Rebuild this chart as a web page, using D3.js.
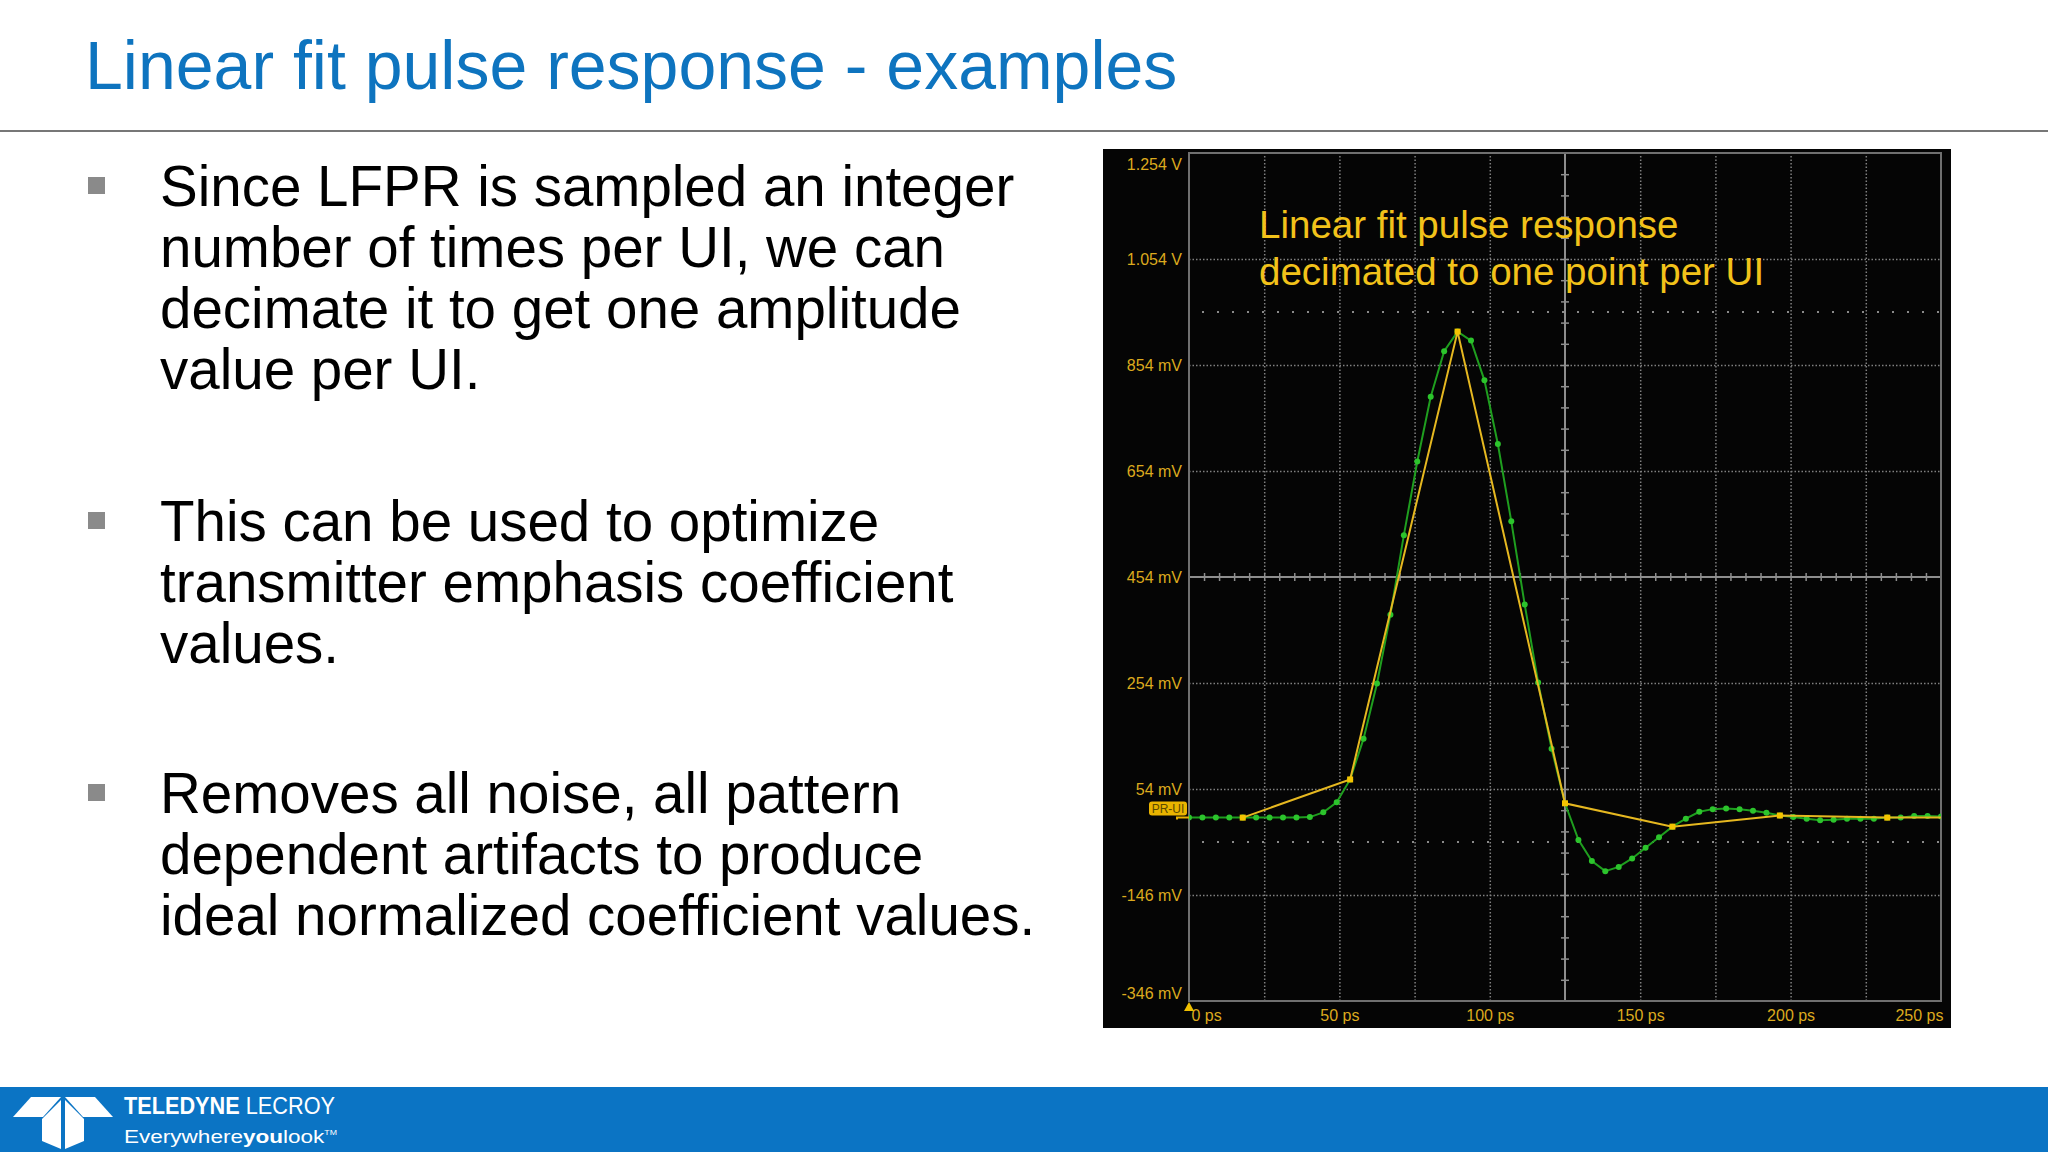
<!DOCTYPE html>
<html>
<head>
<meta charset="utf-8">
<script src="https://cdn.jsdelivr.net/npm/d3@7"></script>
<style>
  html, body { margin: 0; padding: 0; background: #fff; }
  svg { display: block; }
</style>
</head>
<body>
<div id="slide"></div>
<script>
// slide texts
var titleText = "Linear fit pulse response - examples";
var bullets = [
    ["Since LFPR is sampled an integer", "number of times per UI, we can", "decimate it to get one amplitude", "value per UI."],
    ["This can be used to optimize", "transmitter emphasis coefficient", "values."],
    ["Removes all noise, all pattern", "dependent artifacts to produce", "ideal normalized coefficient values."]
];
var chartNote = ["Linear fit pulse response", "decimated to one point per UI"];

// axes
var yTicks = [-346, -146, 54, 254, 454, 654, 854, 1054, 1254];
var yLabels = ["-346 mV", "-146 mV", "54 mV", "254 mV", "454 mV", "654 mV", "854 mV", "1.054 V", "1.254 V"];
var xTicks = [0, 50, 100, 150, 200, 250];
var xLabels = ["0 ps", "50 ps", "100 ps", "150 ps", "200 ps", "250 ps"];
var xGrid = [25, 50, 75, 100, 150, 175, 200, 225];
var yGrid = [-146, 54, 254, 654, 854, 1054];
var sparseRows = [954, -46];

// full pulse response, 8 samples per UI (mV), first sample at 0 ps
var sampleStep = 250 / 56;
var lfprValues = [0, 0, 0, 0, 0, 0, 0, 0, 0, 1, 10, 29, 72, 149, 253, 383, 533, 672, 794, 880,
                  917, 900, 825, 705, 559, 402, 255, 130, 27, -42, -82, -101, -93, -77, -57, -37,
                  -17, -2, 11, 16, 17, 16, 13, 9, 4, 1, -2, -5, -4, -2, -2, -2, 0, 0, 3, 3, 2];

// decimated, one point per UI
var uiTimes = [17.86, 53.57, 89.29, 125.0, 160.71, 196.43, 232.14, 267.86];
var uiValues = [0, 72, 917, 27, -17, 4, 0, 0];

var W = 2048, H = 1152;
var svg = d3.select('#slide').append('svg')
    .attr('width', W).attr('height', H)
    .attr('viewBox', '0 0 ' + W + ' ' + H)
    .style('font-family', '"Liberation Sans", Arial, sans-serif');

svg.append('rect').attr('width', W).attr('height', H).attr('fill', '#fff');

// title + rule
svg.append('text')
    .attr('x', 85).attr('y', 89)
    .attr('font-size', 68)
    .attr('fill', '#0e74bf')
    .text(titleText);
svg.append('line')
    .attr('x1', 0).attr('x2', W).attr('y1', 131).attr('y2', 131)
    .attr('stroke', '#4a4a4a').attr('stroke-width', 1.6);

// bullet list, one text block per bullet
var firstLines = [206, 541, 813];
bullets.forEach(function (lines, bi) {
    var g = svg.append('g');
    g.append('rect')
        .attr('x', 88).attr('y', firstLines[bi] - 29)
        .attr('width', 17).attr('height', 17)
        .attr('fill', '#8a8a8a');
    g.append('text')
        .attr('y', firstLines[bi])
        .attr('font-size', 56.5)
        .attr('fill', '#000')
        .selectAll('tspan').data(lines).enter().append('tspan')
        .attr('x', 160)
        .attr('dy', function (d, i) { return i === 0 ? 0 : 61; })
        .text(function (d) { return d; });
});

// footer
svg.append('rect').attr('x', 0).attr('y', 1087).attr('width', W).attr('height', H - 1087)
    .attr('fill', '#0b74c4');
var logo = svg.append('g').attr('fill', '#fff');
var logoShapes = [
    [[13, 1117], [31, 1097], [61, 1097], [43, 1117]],
    [[113, 1117], [95, 1097], [65, 1097], [83, 1117]],
    [[42, 1119], [61, 1100], [61, 1149], [42, 1141]],
    [[84, 1119], [65, 1100], [65, 1149], [84, 1141]]
];
logo.selectAll('polygon').data(logoShapes).enter().append('polygon')
    .attr('points', function (d) { return d.map(function (p) { return p.join(','); }).join(' '); });

var brand = svg.append('text')
    .attr('x', 124).attr('y', 1114)
    .attr('font-size', 23.5).attr('fill', '#fff')
    .attr('textLength', 211).attr('lengthAdjust', 'spacingAndGlyphs');
brand.append('tspan').attr('font-weight', 'bold').text('TELEDYNE');
brand.append('tspan').text(' LECROY');
var tag = svg.append('text')
    .attr('x', 124).attr('y', 1143)
    .attr('font-size', 18).attr('fill', '#fff')
    .attr('textLength', 213).attr('lengthAdjust', 'spacingAndGlyphs');
tag.append('tspan').text('Everywhere');
tag.append('tspan').attr('font-weight', 'bold').text('you');
tag.append('tspan').text('look');
tag.append('tspan').attr('font-size', 7).attr('dy', -8).text('TM');

// scope screen
svg.append('rect')
    .attr('x', 1103).attr('y', 149).attr('width', 848).attr('height', 879)
    .attr('fill', '#050505');

var plot = { left: 1189, right: 1941, top: 153, bottom: 1001 };
var x = d3.scaleLinear().domain([0, 250]).range([plot.left, plot.right]);
var y = d3.scaleLinear().domain([-346, 1254]).range([plot.bottom, plot.top]);
var scope = svg.append('g');

// dotted grid
var gx = scope.append('g')
    .attr('transform', 'translate(0,' + plot.bottom + ')')
    .call(d3.axisBottom(x).tickValues(xGrid).tickSize(-(plot.bottom - plot.top)).tickFormat(''));
var gy = scope.append('g')
    .attr('transform', 'translate(' + plot.left + ',0)')
    .call(d3.axisLeft(y).tickValues(yGrid).tickSize(-(plot.right - plot.left)).tickFormat(''));
[gx, gy].forEach(function (g) {
    g.select('.domain').remove();
    g.selectAll('line').attr('stroke', '#808080').attr('stroke-width', 1.5)
        .attr('stroke-dasharray', '1.5,2');
});

// sparse dotted rows
scope.selectAll('line.sparse').data(sparseRows).enter().append('line')
    .attr('class', 'sparse')
    .attr('x1', plot.left).attr('x2', plot.right)
    .attr('y1', function (d) { return y(d); }).attr('y2', function (d) { return y(d); })
    .attr('stroke', '#8a8a8a').attr('stroke-width', 2)
    .attr('stroke-dasharray', '2,13').attr('stroke-dashoffset', -13);

// center cross with minor ticks
var cx = x(125), cy = y(454);
scope.append('line').attr('x1', cx).attr('x2', cx).attr('y1', plot.top).attr('y2', plot.bottom)
    .attr('stroke', '#8e8e8e').attr('stroke-width', 2);
scope.append('line').attr('x1', plot.left).attr('x2', plot.right).attr('y1', cy).attr('y2', cy)
    .attr('stroke', '#8e8e8e').attr('stroke-width', 2);
scope.append('g').attr('transform', 'translate(0,' + cy + ')')
    .call(d3.axisBottom(x).tickValues(d3.range(5, 250, 5)).tickSize(4).tickFormat(''))
    .call(function (g) { g.select('.domain').remove(); })
    .selectAll('line').attr('y1', -4).attr('stroke', '#8e8e8e').attr('stroke-width', 1.5);
scope.append('g').attr('transform', 'translate(' + cx + ',0)')
    .call(d3.axisLeft(y).tickValues(d3.range(-306, 1254, 40)).tickSize(4).tickFormat(''))
    .call(function (g) { g.select('.domain').remove(); })
    .selectAll('line').attr('x1', 4).attr('stroke', '#8e8e8e').attr('stroke-width', 1.5);

// frame
scope.append('rect')
    .attr('x', plot.left).attr('y', plot.top)
    .attr('width', plot.right - plot.left).attr('height', plot.bottom - plot.top)
    .attr('fill', 'none').attr('stroke', '#707070').attr('stroke-width', 2);

// axis labels
var labelColor = '#dcaa1e';
var yAxis = scope.append('g')
    .attr('transform', 'translate(' + plot.left + ',0)')
    .call(d3.axisLeft(y).tickValues(yTicks).tickSize(0).tickPadding(7)
        .tickFormat(function (d, i) { return yLabels[i]; }));
yAxis.select('.domain').remove();
yAxis.selectAll('text').attr('fill', labelColor).attr('font-size', 16)
    .attr('font-family', '"Liberation Sans", Arial, sans-serif');
yAxis.selectAll('.tick').filter(function (d) { return d === 1254; }).select('text').attr('dy', '1.05em');
yAxis.selectAll('.tick').filter(function (d) { return d === -346; }).select('text').attr('dy', '-0.18em');

var xAxis = scope.append('g')
    .attr('transform', 'translate(0,' + plot.bottom + ')')
    .call(d3.axisBottom(x).tickValues(xTicks).tickSize(0).tickPadding(9)
        .tickFormat(function (d, i) { return xLabels[i]; }));
xAxis.select('.domain').remove();
xAxis.selectAll('text').attr('fill', labelColor).attr('font-size', 16)
    .attr('font-family', '"Liberation Sans", Arial, sans-serif');
xAxis.selectAll('.tick').filter(function (d) { return d === 0; }).select('text')
    .attr('text-anchor', 'start').attr('dx', 2);
xAxis.selectAll('.tick').filter(function (d) { return d === 250; }).select('text')
    .attr('text-anchor', 'end').attr('dx', 2);

// note text
scope.append('text')
    .attr('y', 238)
    .attr('font-size', 38.5)
    .attr('fill', '#f2c21a')
    .selectAll('tspan').data(chartNote).enter().append('tspan')
    .attr('x', 1259)
    .attr('dy', function (d, i) { return i === 0 ? 0 : 47; })
    .text(function (d) { return d; });

// traces
svg.append('clipPath').attr('id', 'plotClip').append('rect')
    .attr('x', plot.left).attr('y', plot.top)
    .attr('width', plot.right - plot.left).attr('height', plot.bottom - plot.top);
var traces = scope.append('g').attr('clip-path', 'url(#plotClip)');

var lfpr = lfprValues.map(function (v, i) { return [i * sampleStep, v]; });
var perUi = uiValues.map(function (v, i) { return [uiTimes[i], v]; });
var line = d3.line().x(function (d) { return x(d[0]); }).y(function (d) { return y(d[1]); });

traces.append('path').datum(lfpr)
    .attr('d', line).attr('fill', 'none')
    .attr('stroke', '#1f9e1f').attr('stroke-width', 2);
traces.selectAll('circle').data(lfpr).enter().append('circle')
    .attr('cx', function (d) { return x(d[0]); })
    .attr('cy', function (d) { return y(d[1]); })
    .attr('r', 3).attr('fill', '#2cc42c');

traces.append('path').datum(perUi)
    .attr('d', line).attr('fill', 'none')
    .attr('stroke', '#e6b820').attr('stroke-width', 2);
traces.selectAll('rect.ui').data(perUi).enter().append('rect')
    .attr('class', 'ui')
    .attr('x', function (d) { return x(d[0]) - 3; })
    .attr('y', function (d) { return y(d[1]) - 3; })
    .attr('width', 6).attr('height', 6)
    .attr('fill', '#f5c400');

// trace label and markers
var zeroY = y(0);
scope.append('rect')
    .attr('x', plot.left - 40).attr('y', zeroY - 16)
    .attr('width', 38).attr('height', 14).attr('rx', 3)
    .attr('fill', '#e9b400');
scope.append('text')
    .attr('x', plot.left - 21).attr('y', zeroY - 4.5)
    .attr('text-anchor', 'middle')
    .attr('font-size', 12).attr('fill', '#5c4a00')
    .text('PR-UI');
scope.append('path')
    .attr('d', 'M' + (plot.left - 12) + ',' + (zeroY + 2) + 'V' + zeroY + 'H' + plot.left)
    .attr('fill', 'none').attr('stroke', '#e9b400').attr('stroke-width', 2);
scope.append('path')
    .attr('d', 'M' + x(0) + ',' + (plot.bottom + 1) + 'l-5,9h10z')
    .attr('fill', '#f0c000');
</script>
</body>
</html>
